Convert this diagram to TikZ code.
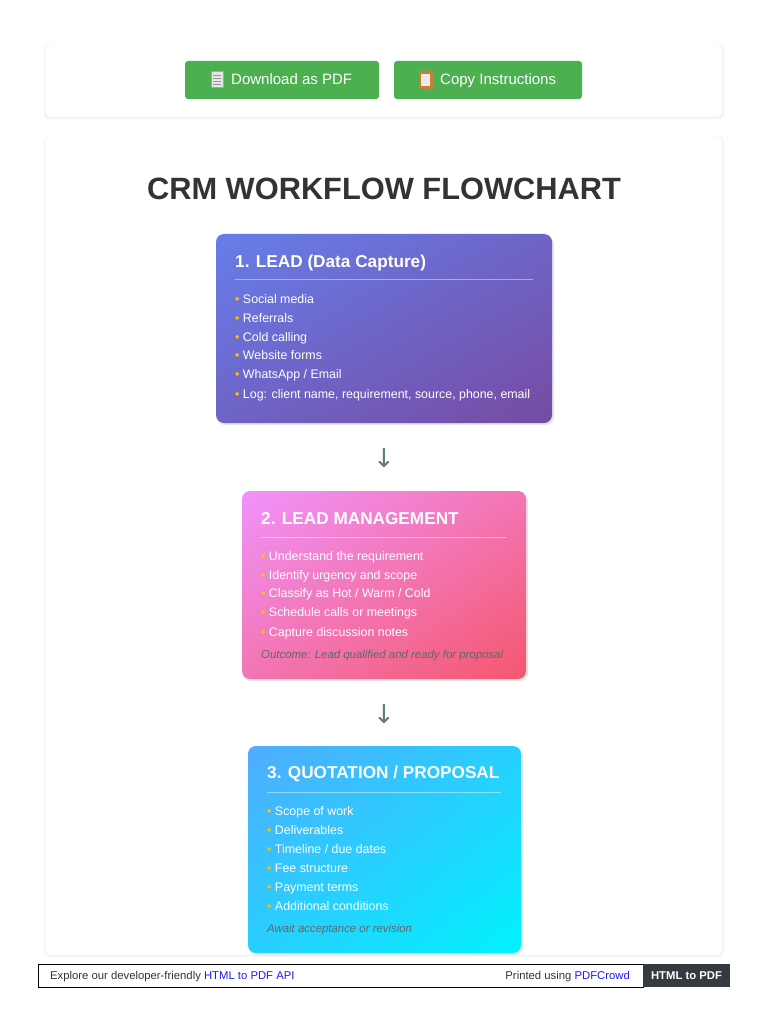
\documentclass[tikz,border=0pt]{standalone}
\usepackage{fontspec}
\usetikzlibrary{shadings}
\setmainfont{Liberation Sans}
\newfontfamily\djv{DejaVu Sans}
\definecolor{grn}{HTML}{4CAF50}
\definecolor{ttl}{HTML}{333333}
\definecolor{bul}{HTML}{FFC107}
\definecolor{arr}{HTML}{5F7F6F}
\definecolor{lnk}{HTML}{1A1AFF}
\definecolor{dk}{HTML}{343A40}
\definecolor{ga1}{HTML}{667EEA}\definecolor{ga2}{HTML}{764BA2}\definecolor{gam}{HTML}{6E64C6}
\definecolor{gb1}{HTML}{F093FB}\definecolor{gb2}{HTML}{F5576C}\definecolor{gbm}{HTML}{F375B4}
\definecolor{gc1}{HTML}{4FACFE}\definecolor{gc2}{HTML}{00F2FE}\definecolor{gcm}{HTML}{28CFFE}
\begin{document}
\begin{tikzpicture}[x=1pt,y=-1pt,
  card/.style={fill=white,draw=black!6,rounded corners=5pt},
  box/.style={rounded corners=8pt},
  btitle/.style={anchor=base west,text=white,font=\bfseries\fontsize{17.2}{19}\selectfont,inner sep=0pt},
  item/.style={anchor=base west,text=white,font=\fontsize{12.4}{14}\selectfont,inner sep=0pt},
  note/.style={anchor=base west,text=black!60,font=\itshape\fontsize{11.4}{12}\selectfont,inner sep=0pt},
  sep/.style={white,opacity=0.45,line width=0.8pt},
  arrow/.style={text=arr,font=\djv\fontsize{26}{28}\selectfont,inner sep=0pt},
  foot/.style={font=\fontsize{11.3}{13}\selectfont,inner sep=0pt}]
\useasboundingbox (0,0) rectangle (768,1024);
\fill[white] (0,0) rectangle (768,1024);
% top card
\fill[black!4,rounded corners=5pt] (44,44) rectangle (724,119);
\draw[card] (45,43) rectangle (722,117);
\fill[grn,rounded corners=3pt] (185,61) rectangle (379,99);
\fill[grn,rounded corners=3pt] (394,61) rectangle (582,99);
% icons
\fill[black!10,draw=black!35] (211,71) rectangle (223,87);
\foreach \yy in {75,78,81,84} \draw[black!40,line width=0.5pt] (213,\yy) -- (221,\yy);
\fill[brown!70!orange,draw=brown] (419,71) rectangle (432,88);
\fill[black!8] (421,74) rectangle (430,86);
\fill[black!45] (423,69.5) rectangle (428,72.5);
\node[text=white,font=\fontsize{15}{17}\selectfont,anchor=base west,inner sep=0pt] (b1) at (231,85) {Download as PDF};
\node[text=white,font=\fontsize{15}{17}\selectfont,anchor=base west,inner sep=0pt] (b2) at (440,85) {Copy Instructions};
% main card
\fill[black!4,rounded corners=5pt] (44,137) rectangle (724,957);
\draw[card] (45,136) rectangle (722,955);
\node[text=ttl,font=\bfseries\fontsize{30.8}{34}\selectfont,inner sep=0pt] (title) at (384,189) {CRM WORKFLOW FLOWCHART};
% box 1
\fill[black!10,rounded corners=8pt] (217,236) rectangle (554,425);
\shade[box,upper left=ga1,lower right=ga2,upper right=gam,lower left=gam] (216,234) rectangle (552,423);
\node[btitle] (t1) at (235,267) {1. LEAD (Data Capture)};
\draw[sep] (235,279) -- (533,279);
\foreach \t/\yy in {{Social media}/299,{Referrals}/318,{Cold calling}/337,{Website forms}/355,{WhatsApp / Email}/374,{Log: client name, requirement, source, phone, email}/394}
  \node[item] at (235,\yy+4.5) {\textcolor{bul}{•} \t};
\node[arrow] (a1) at (384,458) {↓};
% box 2
\fill[black!10,rounded corners=8pt] (243,493) rectangle (528,681);
\shade[box,upper left=gb1,lower right=gb2,upper right=gbm,lower left=gbm] (242,491) rectangle (526,679);
\node[btitle] (t2) at (261,524) {2. LEAD MANAGEMENT};
\draw[sep] (261,537) -- (507,537);
\foreach \t/\yy in {{Understand the requirement}/556,{Identify urgency and scope}/575,{Classify as Hot / Warm / Cold}/593,{Schedule calls or meetings}/612,{Capture discussion notes}/632}
  \node[item] at (261,\yy+4.5) {\textcolor{bul}{•} \t};
\node[note] (n2) at (261,658) {Outcome: Lead qualified and ready for proposal};
\node[arrow] (a2) at (384,714) {↓};
% box 3
\fill[black!10,rounded corners=8pt] (249,748) rectangle (523,955);
\shade[box,upper left=gc1,lower right=gc2,upper right=gcm,lower left=gcm] (248,746) rectangle (521,953);
\node[btitle] (t3) at (267,778) {3. QUOTATION / PROPOSAL};
\draw[sep] (267,792) -- (501,792);
\foreach \t/\yy in {{Scope of work}/811,{Deliverables}/830,{Timeline / due dates}/849,{Fee structure}/868,{Payment terms}/887,{Additional conditions}/906}
  \node[item] at (267,\yy+4.5) {\textcolor{bul}{•} \t};
\node[note] (n3) at (267,932) {Await acceptance or revision};
% footer
\draw[black,line width=0.8pt,fill=white] (38,964) rectangle (643,987);
\fill[dk] (643,964) rectangle (730,987);
\node[foot,anchor=base west,text=black!80] (f1) at (50,979.5) {Explore our developer-friendly \textcolor{lnk}{HTML to PDF API}};
\node[foot,anchor=base east,text=black!80] (f2) at (630,979.5) {Printed using \textcolor{lnk}{PDFCrowd}};
\node[foot,anchor=base,text=white,font=\bfseries\fontsize{11.3}{13}\selectfont] (f3) at (686.5,979.5) {HTML to PDF};
\end{tikzpicture}
\end{document}
